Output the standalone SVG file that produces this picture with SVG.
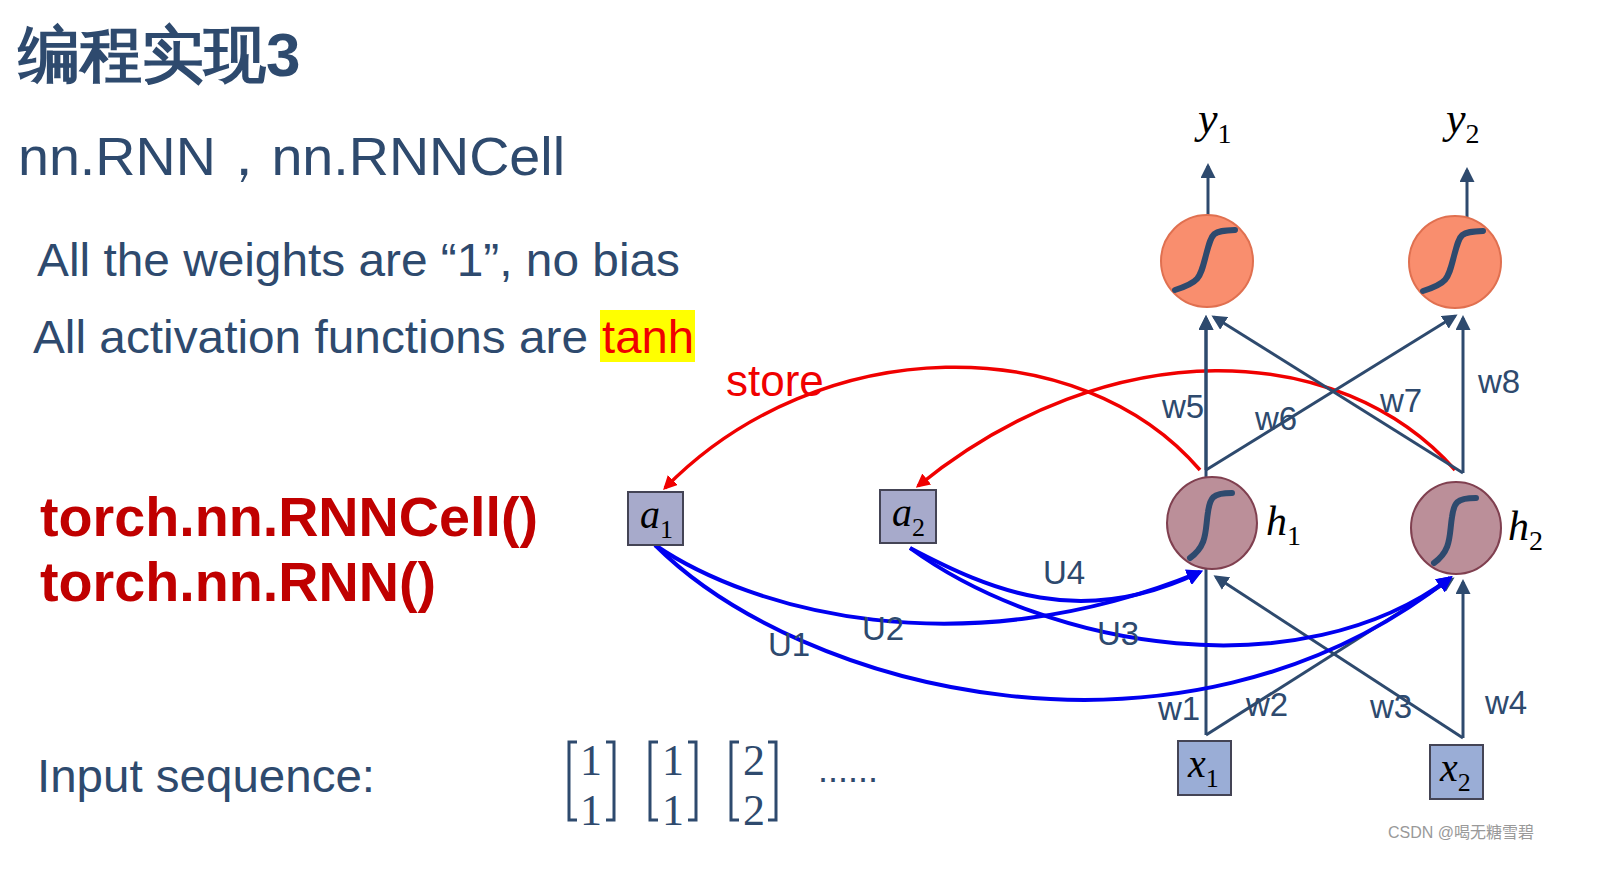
<svg xmlns="http://www.w3.org/2000/svg" width="1605" height="870" viewBox="0 0 1605 870">
<style>
.t{font-family:"Liberation Sans",Arial,sans-serif;fill:#2E4A6E}
.m{font-family:"Liberation Serif","Times New Roman",serif;font-style:italic;fill:#000}
.s{font-family:"Liberation Serif","Times New Roman",serif;fill:#000}
.w{font-family:"Liberation Sans",Arial,sans-serif;fill:#2E4A6E;font-size:33px}
.c{stroke:#2E4A6E;stroke-width:3;fill:none}
.r{stroke:#f00000;stroke-width:3.5;fill:none}
.b{stroke:#0000f0;stroke-width:4;fill:none}
.sig{stroke:#2E4A6E;stroke-width:6;fill:none;stroke-linecap:round}
.box{stroke:#445;stroke-width:2}
.br{font-family:"Liberation Serif","Times New Roman",serif;fill:#2E4A6E;font-size:44px}
</style>
<defs>
<marker id="ab" viewBox="0 0 10 10" refX="8" refY="5" markerWidth="5" markerHeight="5" orient="auto"><path d="M0,0L10,5L0,10z" fill="#2E4A6E"/></marker>
<marker id="ar" viewBox="0 0 10 10" refX="8" refY="5" markerWidth="4" markerHeight="4" orient="auto"><path d="M0,0L10,5L0,10z" fill="#f00000"/></marker>
<marker id="au" viewBox="0 0 10 10" refX="8" refY="5" markerWidth="4" markerHeight="4" orient="auto"><path d="M0,0L10,5L0,10z" fill="#0000f0"/></marker>
</defs>
<rect width="1605" height="870" fill="#fff"/>
<text class="t" x="18" y="76" font-size="62" font-weight="bold" font-family="'Liberation Sans','Noto Sans CJK SC',sans-serif">编程实现3</text>
<text class="t" x="18" y="175" font-size="54" font-family="'Liberation Sans','Noto Sans CJK SC',sans-serif" textLength="547" lengthAdjust="spacingAndGlyphs">nn.RNN，nn.RNNCell</text>
<text class="t" x="37" y="276" font-size="46" textLength="643" lengthAdjust="spacingAndGlyphs">All the weights are “1”, no bias</text>
<rect x="600" y="310" width="95" height="52" fill="#ffff00"/>
<text class="t" x="33" y="353" font-size="46" textLength="555" lengthAdjust="spacingAndGlyphs">All activation functions are</text>
<text x="602" y="353" font-size="46" fill="#f00000" font-family="Liberation Sans,Arial,sans-serif" textLength="92" lengthAdjust="spacingAndGlyphs">tanh</text>
<text x="726" y="396" font-size="44" fill="#f00000" font-family="Liberation Sans,Arial,sans-serif">store</text>
<text x="40" y="536" font-size="55" font-weight="bold" fill="#C00000" font-family="Liberation Sans,Arial,sans-serif" textLength="498" lengthAdjust="spacingAndGlyphs">torch.nn.RNNCell()</text>
<text x="40" y="601" font-size="55" font-weight="bold" fill="#C00000" font-family="Liberation Sans,Arial,sans-serif" textLength="396" lengthAdjust="spacingAndGlyphs">torch.nn.RNN()</text>
<text class="t" x="37" y="792" font-size="46" textLength="338" lengthAdjust="spacingAndGlyphs">Input sequence:</text>
<g id="matrices" fill="none" stroke="#2E4A6E" stroke-width="3">
<path d="M577,742H569V820H577M606,742H614V820H606"/>
<path d="M658,742H650V820H658M688,742H696V820H688"/>
<path d="M739,742H731V820H739M768,742H776V820H768"/>
</g>
<g class="br" text-anchor="middle">
<text x="591" y="775">1</text><text x="591" y="825">1</text>
<text x="673" y="775">1</text><text x="673" y="825">1</text>
<text x="754" y="775">2</text><text x="754" y="825">2</text>
</g>
<text class="t" x="818" y="782" font-size="36">......</text>
<g id="connectors">
<path class="r" d="M1200,470C1080,330 820,330 665,488" marker-end="url(#ar)"/>
<path class="r" d="M1455,470C1340,340 1110,330 918,486" marker-end="url(#ar)"/>
<path class="c" d="M1206,735V318" marker-end="url(#ab)"/>
<path class="c" d="M1206,735L1452,579" marker-end="url(#ab)"/>
<path class="c" d="M1463,738L1216,577" marker-end="url(#ab)"/>
<path class="c" d="M1463,738V582" marker-end="url(#ab)"/>
<path class="c" d="M1206,470V318" marker-end="url(#ab)"/>
<path class="c" d="M1206,470L1455,316" marker-end="url(#ab)"/>
<path class="c" d="M1463,473L1214,317" marker-end="url(#ab)"/>
<path class="c" d="M1463,473V318" marker-end="url(#ab)"/>
<path class="c" d="M1208,216V166" marker-end="url(#ab)"/>
<path class="c" d="M1467,218V170" marker-end="url(#ab)"/>
<path class="b" d="M655,545C750,610 960,670 1200,572" marker-end="url(#au)"/>
<path class="b" d="M655,545C800,690 1180,790 1450,578" marker-end="url(#au)"/>
<path class="b" d="M910,548C990,590 1080,630 1200,572" marker-end="url(#au)"/>
<path class="b" d="M910,548C1050,650 1300,690 1450,578" marker-end="url(#au)"/>
</g>
<g class="w">
<text x="1158" y="720">w1</text><text x="1246" y="716">w2</text><text x="1370" y="718">w3</text><text x="1485" y="714">w4</text>
<text x="1162" y="418">w5</text><text x="1255" y="430">w6</text><text x="1380" y="412">w7</text><text x="1478" y="393">w8</text>
<text x="768" y="656">U1</text><text x="862" y="640">U2</text><text x="1097" y="645">U3</text><text x="1043" y="584">U4</text>
</g>
<g id="o1"><circle cx="1207" cy="261" r="46" fill="#f98e6e" stroke="#e07050" stroke-width="2"/><path class="sig" d="M1175,290C1200,282 1200,278 1206,255C1212,232 1212,231 1235,230"/></g>
<g id="o2"><circle cx="1455" cy="262" r="46" fill="#f98e6e" stroke="#e07050" stroke-width="2"/><path class="sig" d="M1423,291C1448,283 1448,279 1454,256C1460,233 1460,232 1483,231"/></g>
<g id="h1"><ellipse cx="1212" cy="523" rx="45" ry="46" fill="#bb8f99" stroke="#804050" stroke-width="2"/><path class="sig" d="M1190,558C1208,545 1205,530 1208,512C1210,498 1212,493 1232,493"/><text class="m" x="1266" y="535" font-size="42">h<tspan class="s" font-style="normal" font-size="28" dy="10">1</tspan></text></g>
<g id="h2"><ellipse cx="1456" cy="528" rx="45" ry="46" fill="#bb8f99" stroke="#804050" stroke-width="2"/><path class="sig" d="M1434,563C1452,550 1449,535 1452,517C1454,503 1456,498 1476,498"/><text class="m" x="1508" y="540" font-size="42">h<tspan class="s" font-style="normal" font-size="28" dy="10">2</tspan></text></g>
<g id="a1"><rect class="box" x="628" y="492" width="55" height="53" fill="#a7aacb"/><text class="m" x="640" y="528" font-size="40">a<tspan class="s" font-style="normal" font-size="26" dy="10">1</tspan></text></g>
<g id="a2"><rect class="box" x="880" y="490" width="56" height="53" fill="#a7aacb"/><text class="m" x="892" y="526" font-size="40">a<tspan class="s" font-style="normal" font-size="26" dy="10">2</tspan></text></g>
<g id="x1"><rect class="box" x="1178" y="741" width="53" height="54" fill="#9aadd6"/><text class="m" x="1188" y="777" font-size="40">x<tspan class="s" font-style="normal" font-size="26" dy="10">1</tspan></text></g>
<g id="x2"><rect class="box" x="1430" y="745" width="53" height="54" fill="#9aadd6"/><text class="m" x="1440" y="781" font-size="40">x<tspan class="s" font-style="normal" font-size="26" dy="10">2</tspan></text></g>
<g id="y1"><text class="m" x="1198" y="133" font-size="44">y<tspan class="s" font-style="normal" font-size="28" dy="10">1</tspan></text></g>
<g id="y2"><text class="m" x="1446" y="133" font-size="44">y<tspan class="s" font-style="normal" font-size="28" dy="10">2</tspan></text></g>
<text x="1388" y="838" font-size="16" fill="#999" font-family="'Liberation Sans','Noto Sans CJK SC',sans-serif">CSDN @喝无糖雪碧</text>
</svg>
